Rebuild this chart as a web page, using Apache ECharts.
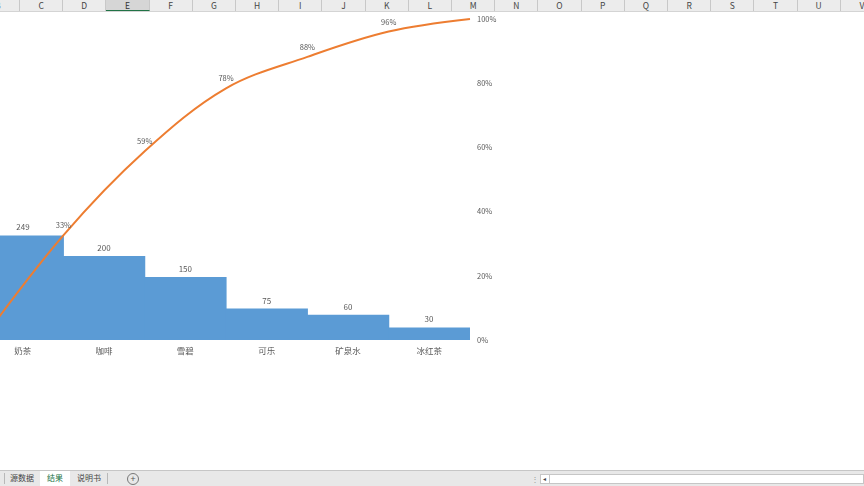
<!DOCTYPE html>
<html><head><meta charset="utf-8">
<script src="https://cdn.jsdelivr.net/npm/echarts@6/dist/echarts.min.js"></script>
<style>
html,body{margin:0;padding:0;width:864px;height:486px;overflow:hidden;background:#fff;font-family:"Noto Sans CJK SC","Noto Sans",sans-serif;}
#chart{position:absolute;left:-18px;top:0;width:882px;height:486px;}
#hdr{position:absolute;left:0;top:0;width:864px;height:11px;background:#ececec;border-bottom:1px solid #d4d4d4;overflow:hidden;}
.col{position:absolute;top:0;height:11px;border-right:1px solid #c8c8c8;box-sizing:border-box;font-size:8.5px;line-height:11px;text-align:center;color:#444;}
.col.sel{background:#d6d6d6;border-bottom:1.5px solid #217346;color:#333;}
#tabs{position:absolute;left:0;top:470px;width:864px;height:16px;background:#e8e8e8;border-top:1px solid #c6c6c6;}
.tab{position:absolute;top:0;height:15px;font-size:8px;line-height:14px;color:#444;}
.sep{position:absolute;top:2px;width:1px;height:11px;background:#b8b8b8;}
</style></head>
<body>
<div id="chart"></div>
<div id="hdr"></div>
<div id="tabs">
  <div class="sep" style="left:4px"></div>
  <div class="tab" style="left:10px">源数据</div>
  <div class="tab" style="left:40px;width:30px;background:#fff;text-align:center;color:#217346;border-bottom:1.5px solid #217346;">结果</div>
  <div class="tab" style="left:77px">说明书</div>
  <div class="sep" style="left:107px"></div>
  <div class="tab" style="left:127px;width:10px;height:10px;top:2px;border:1px solid #777;border-radius:50%;font-size:9px;line-height:10px;text-align:center;color:#555;">+</div>
  <div style="position:absolute;left:531px;top:3px;font-size:8px;line-height:9px;color:#999;">⋮</div>
  <div style="position:absolute;left:540px;top:3px;width:324px;height:10px;background:#fff;border:1px solid #c6c6c6;box-sizing:border-box;"></div>
  <div style="position:absolute;left:540px;top:3px;width:10px;height:10px;border-right:1px solid #c6c6c6;box-sizing:border-box;font-size:6px;line-height:10px;text-align:center;color:#444;">◂</div>
</div>
<script>
// ---- data ----
const categories = ['奶茶', '咖啡', '雪碧', '可乐', '矿泉水', '冰红茶'];
const salesValues = [249, 200, 150, 75, 60, 30];
const salesAxisMax = 764;                 // primary axis max (total)
const cumulativePct = [0, 32.6, 58.8, 78.4, 88.2, 96.1, 100];
const pctTicks = [0, 20, 40, 60, 80, 100];

// ---- spreadsheet column header (UI chrome) ----
const colLetters = ['B','C','D','E','F','G','H','I','J','K','L','M','N','O','P','Q','R','S','T','U','V'];
const hdr = document.getElementById('hdr');
colLetters.forEach((c, i) => {
  const d = document.createElement('div');
  d.className = 'col' + (c === 'E' ? ' sel' : '');
  d.style.left = (20 + 43.2 * (i - 1)) + 'px';
  d.style.width = '43.2px';
  d.textContent = c;
  hdr.appendChild(d);
});

const chart = echarts.init(document.getElementById('chart'), null, {renderer: 'canvas'});
const txt = '#595959';
const font = '"Noto Sans CJK SC","Noto Sans",sans-serif';
chart.setOption({
  animation: false,
  backgroundColor: 'transparent',
  grid: {left: 0, right: 394, top: 19, bottom: 146, containLabel: false},
  xAxis: [
    {type: 'category', data: categories, boundaryGap: true,
     axisLine: {show: false}, axisTick: {show: false}, splitLine: {show: false},
     axisLabel: {color: txt, fontSize: 8.5, fontFamily: font, margin: 7, interval: 0}},
    {type: 'value', min: 0, max: categories.length, show: false}
  ],
  yAxis: [
    {type: 'value', min: 0, max: salesAxisMax, show: false, splitLine: {show: false}},
    {type: 'value', min: 0, max: 100, interval: 20, position: 'right',
     axisLine: {show: false}, axisTick: {show: false}, splitLine: {show: false},
     axisLabel: {color: txt, fontSize: 7.5, fontFamily: font, margin: 7, formatter: v => pctTicks.includes(v) ? v + '%' : ''}}
  ],
  series: [
    {type: 'bar', data: salesValues, xAxisIndex: 0, yAxisIndex: 0,
     barWidth: 82.5, itemStyle: {color: '#5B9BD5', borderWidth: 0},
     label: {show: true, position: 'top', distance: 4, color: txt, fontSize: 8, fontFamily: font}},
    {type: 'line', xAxisIndex: 1, yAxisIndex: 1, smooth: 0.35,
     symbol: 'circle', symbolSize: 2, showSymbol: true, itemStyle: {color: 'rgba(237,125,49,0)'},
     data: cumulativePct.map((v, i) => [i, v]),
     lineStyle: {color: '#ED7D31', width: 2},
     label: {show: true, position: 'top', distance: 5, color: txt, fontSize: 7.5, fontFamily: font,
       formatter: p => (p.dataIndex === 0 || p.dataIndex === cumulativePct.length - 1) ? '' : Math.round(p.value[1]) + '%'}}
  ]
});
</script>
</body></html>
